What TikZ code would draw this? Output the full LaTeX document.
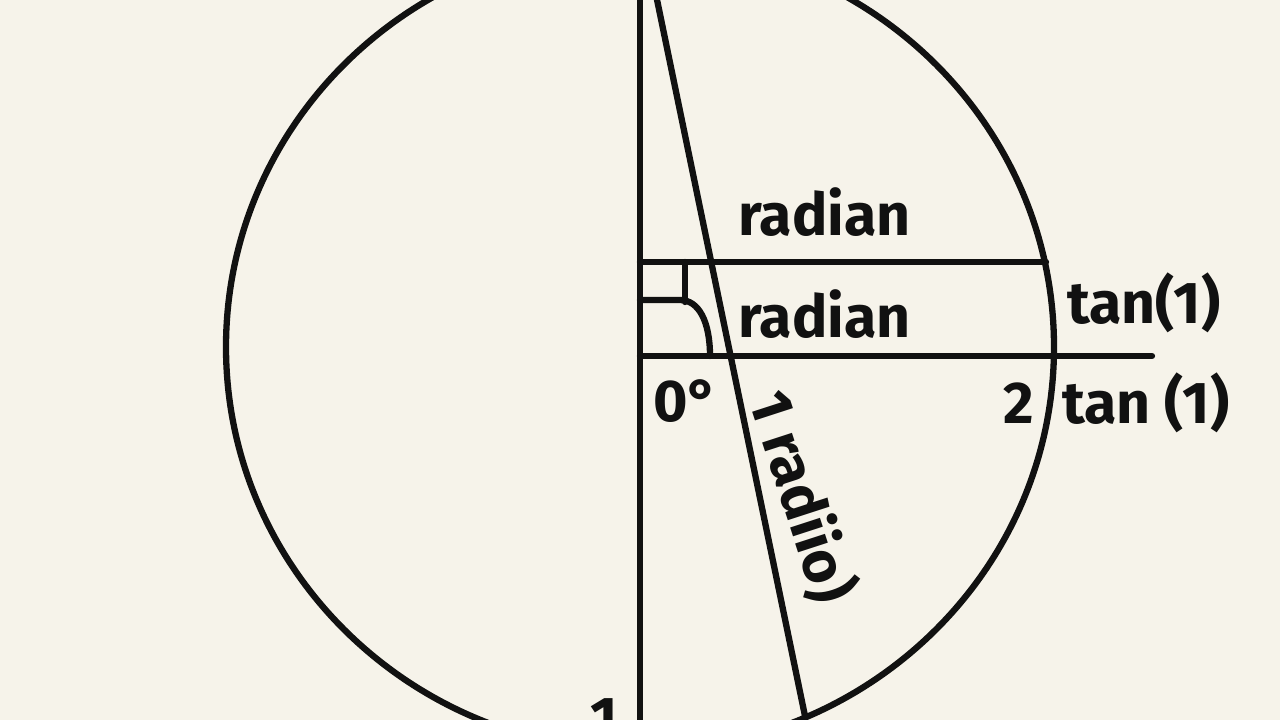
\documentclass[tikz,border=0pt]{standalone}
\usepackage{fontspec}
\setmainfont{Fira Sans}
\definecolor{paper}{HTML}{F6F3EA}
\definecolor{ink}{HTML}{111111}
\begin{document}
\begin{tikzpicture}[x=1pt,y=-1pt,
  stroke/.style={draw=ink,line width=6.3pt,line cap=round,line join=round},
  lbl/.style={font=\fontsize{59}{61}\selectfont\bfseries,inner sep=0pt,text=ink}]
\useasboundingbox (0,0) rectangle (1280,720);
\fill[paper] (0,0) rectangle (1280,720);
\clip (0,0) rectangle (1280,720);
% geometry
\coordinate (C) at (640,347);
\coordinate (vTop) at (640,-10);
\coordinate (vBot) at (640,730);
\coordinate (sTop) at (655,-10);
\coordinate (sBot) at (805,716);
\coordinate (h1L) at (640,262);
\coordinate (h1R) at (1046,262);
\coordinate (h2L) at (640,356);
\coordinate (h2R) at (1152,356);
\coordinate (tkT) at (685,262);
\coordinate (tkB) at (685,302);
\coordinate (aS) at (640,300);
\coordinate (aM) at (680,300);
\coordinate (aE) at (710,356);
% shapes
\draw[stroke] (C) ellipse [x radius=414, y radius=404];
\draw[stroke] (vTop) -- (vBot);
\draw[stroke] (sTop) -- (sBot);
\draw[stroke] (h1L) -- (h1R);
\draw[stroke] (h2L) -- (h2R);
\draw[stroke] (tkT) -- (tkB);
\draw[stroke] (aS) -- (aM) .. controls (699,300) and (710,322) .. (aE);
% labels
\node[lbl,anchor=base west] (rad1) at (738,235) {radian};
\node[lbl,anchor=base west] (rad2) at (738,337) {radian};
\node[lbl,anchor=base west] (tan1) at (1067,323) {tan(1)};
\node[lbl,anchor=base west] (two) at (1003,423) {2};
\node[lbl,anchor=base west] (tan2) at (1062,423) {tan (1)};
\node[lbl,anchor=base west] (zero) at (653,421) {0°};
\node[lbl,anchor=base west] (one) at (590,738) {1};
\node[lbl,rotate=-72] (radio) at (802,497) {1 radiio)};
\end{tikzpicture}
\end{document}
